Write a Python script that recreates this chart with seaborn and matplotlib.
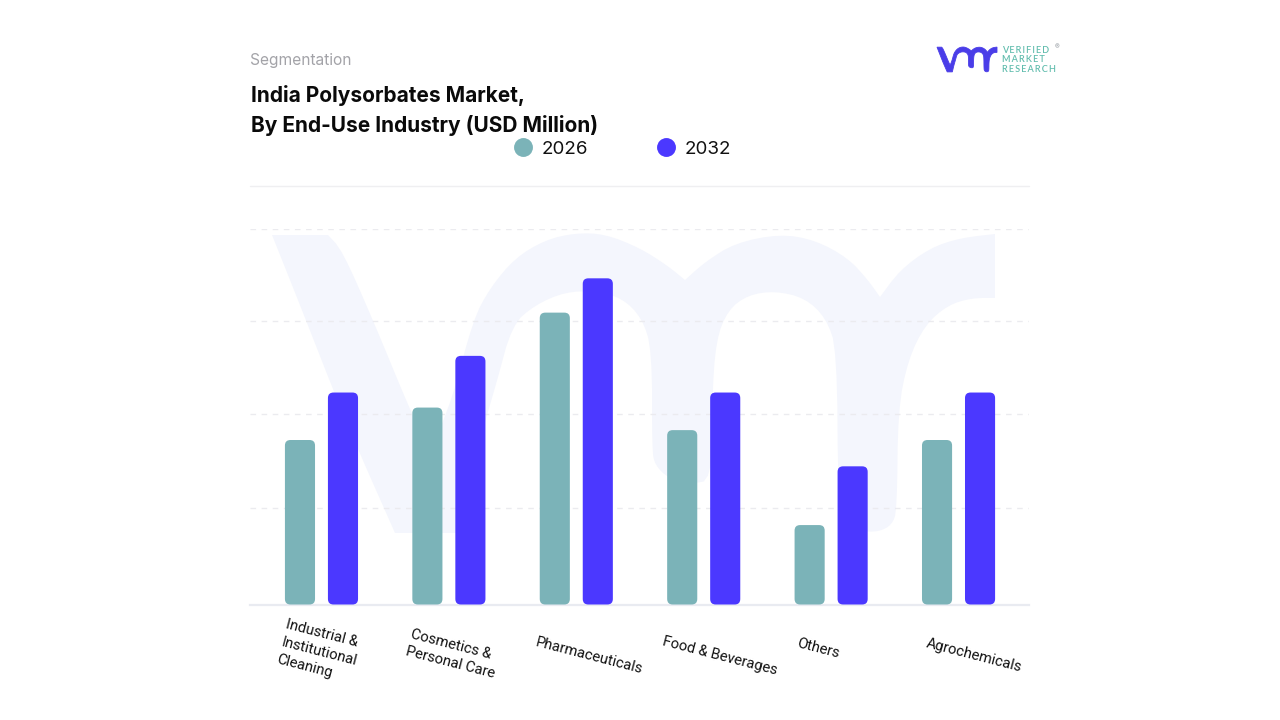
import numpy as np
import pandas as pd
import matplotlib
matplotlib.use("Agg")
import matplotlib.pyplot as plt
import seaborn as sns
from matplotlib.lines import Line2D
from matplotlib.patches import FancyBboxPatch, Polygon
from matplotlib.transforms import Affine2D

categories = ["Industrial &\nInstitutional\nCleaning", "Cosmetics &\nPersonal Care", "Pharmaceuticals",
              "Food & Beverages", "Others", "Agrochemicals"]
values_2026 = [35.0, 41.9, 62.1, 37.1, 16.9, 35.0]
values_2032 = [45.1, 52.9, 69.4, 45.1, 29.4, 45.1]
years = ["2026", "2032"]
y_ticks = [20.6, 40.6, 60.4, 80]

TEAL = "#7BB3B8"
BLUE = "#4B38FF"
W, H = 1280, 720

sns.set_theme(style="white")
plt.rcParams["font.family"] = ["Inter", "DejaVu Sans"]

df = pd.DataFrame({
    "category": categories * 2,
    "year": [years[0]] * len(categories) + [years[1]] * len(categories),
    "value": values_2026 + values_2032,
})

fig = plt.figure(figsize=(W / 100, H / 100), dpi=100, facecolor="white")


def fx(x):
    return x / W


def fy(y):
    return 1 - y / H


# faint "vmr" mark, outline in reference pixels; corner points stay sharp, the rest are rounded
MARK = [(272, 235), (328, 235), (342, 250), (373, 320), (410, 410), (430, 452), (452, 400), (473, 320),
        (490, 288), (515, 258), (545, 240), (575, 233), (605, 234), (640, 248), (668, 266), (685, 280),
        (705, 262), (735, 243), (780, 234), (815, 240), (848, 258), (868, 280), (880, 297), (900, 270),
        (930, 248), (960, 238), (995, 234), (995, 298), (972, 298), (948, 305), (925, 325), (908, 360),
        (898, 410), (897, 510), (892, 525), (878, 532), (860, 531), (845, 520), (838, 500), (837, 350),
        (826, 318), (805, 298), (775, 291), (748, 295), (728, 310), (716, 340), (712, 400), (712, 480),
        (690, 484), (668, 478), (655, 465), (652, 450), (652, 350), (642, 318), (622, 298), (595, 291),
        (565, 292), (535, 305), (512, 325), (496, 385), (475, 455), (457, 533), (395, 533), (345, 420),
        (300, 305)]
SHARP = {(272, 235), (328, 235), (430, 452), (685, 280), (880, 297), (995, 234), (995, 298), (457, 533), (395, 533)}


def smooth(points, sharp, rounds=2):
    pts = [(float(a), float(b), (a, b) in sharp) for a, b in points]
    for _ in range(rounds):
        out = []
        n = len(pts)
        for i, (x, y, keep) in enumerate(pts):
            if keep:
                out.append((x, y, True))
                continue
            px, py, _k = pts[i - 1]
            nx, ny, _k = pts[(i + 1) % n]
            out.append((x + (px - x) / 4, y + (py - y) / 4, False))
            out.append((x + (nx - x) / 4, y + (ny - y) / 4, False))
        pts = out
    return np.array([(x, y) for x, y, _k in pts])


mark = smooth(MARK, SHARP)
fig.add_artist(Polygon(np.c_[fx(mark[:, 0]), fy(mark[:, 1])], closed=True, transform=fig.transFigure,
                       facecolor="#F4F6FD", edgecolor="none", zorder=0))

ax = fig.add_axes([fx(250), fy(604.5), fx(1029) - fx(250), fy(228.5) - fy(604.5)], zorder=1)
ax.patch.set_alpha(0)

sns.barplot(data=df, x="category", y="value", hue="year", order=categories, hue_order=years,
            palette=[TEAL, BLUE], width=0.675, gap=0.30, saturation=1, ax=ax, legend=False, zorder=3)

ax.set_xlim(-0.561, 5.553)
ax.set_ylim(0, 80)
ax.set_yticks(y_ticks)
ax.tick_params(axis="both", length=0)
ax.tick_params(axis="x", pad=0)
ax.set_yticklabels([])
ax.set_xlabel("")
ax.set_ylabel("")
ax.set_axisbelow(True)
ax.grid(axis="y", color="#EBEBEF", lw=1, ls=(0, (4, 4)))
ax.grid(axis="x", visible=False)
for side in ("left", "right", "top"):
    ax.spines[side].set_visible(False)
ax.spines["bottom"].set_color("#E9EBF1")
ax.spines["bottom"].set_linewidth(1.6)

# rounded bar corners: each seaborn bar gives its geometry to a rounded patch in data units
RADIUS_PX = 5.5
px_per_x = ax.get_window_extent().width / (ax.get_xlim()[1] - ax.get_xlim()[0])
px_per_y = ax.get_window_extent().height / (ax.get_ylim()[1] - ax.get_ylim()[0])
rx = RADIUS_PX / px_per_x
aspect = px_per_x / px_per_y
ry = rx * aspect
for bar in list(ax.patches):
    x0, y0, w, h = bar.get_x(), bar.get_y(), bar.get_width(), bar.get_height()
    rounded = FancyBboxPatch((x0 + rx, y0 + ry), w - 2 * rx, h - 2 * ry,
                             boxstyle=f"round,pad={rx},rounding_size={rx}", mutation_aspect=aspect,
                             facecolor=bar.get_facecolor(), edgecolor="none", zorder=3)
    bar.set_visible(False)
    ax.add_patch(rounded)

# category labels
LABEL_NUDGE_PX = [(-2.5, 47), (4, 49.5), (12.5, 51), (16, 51.5), (-13, 44), (16, 51)]
ax.set_xticks(range(len(categories)))
ax.set_xticklabels(categories)
for label, (dx, dy) in zip(ax.get_xticklabels(), LABEL_NUDGE_PX):
    label.set_rotation(-14.5)
    label.set_ha("center")
    label.set_va("center")
    label.set_multialignment("left")
    label.set_fontsize(10.6)
    label.set_linespacing(1.35)
    label.set_family(["Roboto", "DejaVu Sans"])
    label.set_color("#111111")
    label.set_transform(label.get_transform() + Affine2D().translate(dx, -dy))

# legend
handles = [Line2D([], [], ls="none", marker="o", ms=13.6, mfc=c, mec=c, mew=0) for c in (TEAL, BLUE)]
fig.legend(handles, years, loc="center left", bbox_to_anchor=(fx(508), fy(149)), ncols=2, frameon=False,
           fontsize=13.5, labelcolor="#111111", handletextpad=0.2, columnspacing=3.33, borderpad=0, borderaxespad=0,
           handlelength=1.6)

# header
fig.text(fx(250), fy(60.5), "Segmentation", fontsize=11.2, color="#A3A3A8", va="center", ha="left")
fig.text(fx(251), fy(96), "India Polysorbates Market,", fontsize=15.05, fontweight="bold", color="#0A0A0A",
         va="center", ha="left")
fig.text(fx(251), fy(125), "By End-Use Industry (USD Million)", fontsize=15.05, fontweight="bold",
         color="#0A0A0A", va="center", ha="left")
fig.add_artist(Line2D([fx(250), fx(1029)], [fy(185.5)] * 2, color="#EFEFF1", lw=1, transform=fig.transFigure))

# logo
scale = 60 / 723
lx = 937 + (mark[:, 0] - 272) * scale
ly = 47 + (mark[:, 1] - 233) * scale
fig.add_artist(Polygon(np.c_[fx(lx), fy(ly)], closed=True, transform=fig.transFigure, facecolor="#4A3DE8",
                       edgecolor="#4A3DE8", lw=0.6))
for text, y in zip(["VERIFIED", "MARKET", "RESEARCH"], [50.5, 60, 69.5]):
    fig.text(fx(1002), fy(y), "\u2009".join(text), fontsize=6.6, fontweight="semibold", color="#62BDAE",
             va="center", ha="left", family=["Lato", "DejaVu Sans"])
fig.text(fx(1057), fy(47.5), "\u00ae", fontsize=5, color="#9AA0A6", va="center", ha="center")

fig.savefig("out.png", dpi=100, facecolor="white")
